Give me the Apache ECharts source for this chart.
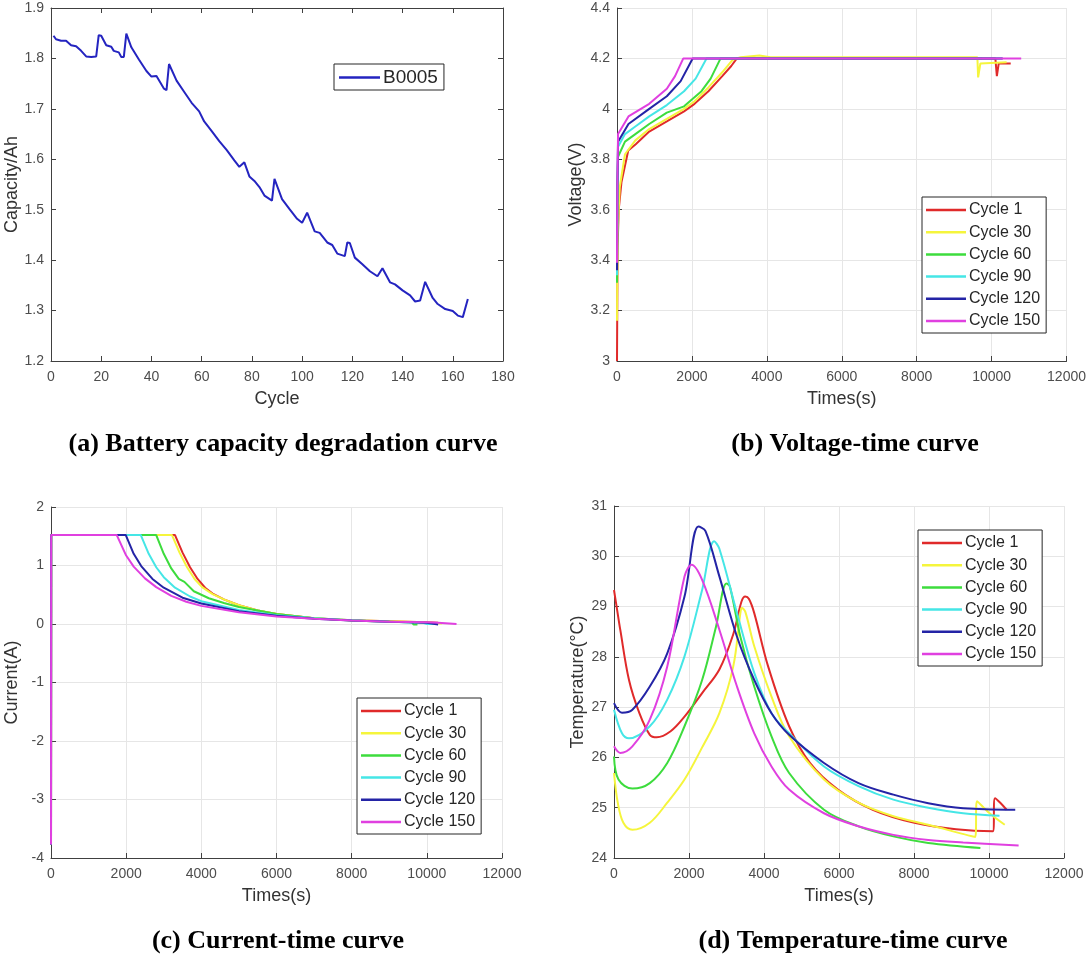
<!DOCTYPE html>
<html>
<head>
<meta charset="utf-8">
<script src="https://cdn.jsdelivr.net/npm/echarts@6/dist/echarts.min.js"></script>
<style>
html,body{margin:0;padding:0;background:#fff;}
#main{width:1089px;height:955px;}
</style>
</head>
<body>
<div id="main"></div>
<script>
// ---------- DATA ----------
const panelTitles = ['(a) Battery capacity degradation curve', '(b) Voltage-time curve', '(c) Current-time curve', '(d) Temperature-time curve'];
const cycleNames = ['Cycle 1', 'Cycle 30', 'Cycle 60', 'Cycle 90', 'Cycle 120', 'Cycle 150'];
const cycleColors = ['#e02a2a', '#f5f53c', '#3ddc3d', '#45e6e6', '#2424a6', '#e040e0'];

// (a) capacity of B0005
const capCycles = [1,2,4,6,8,10,12,14,16,18,19,20,22,24,25,27,28,29,30,32,35,38,40,42,45,46,47,50,53,56,59,61,64,67,70,73,75,77,79,81,83,85,88,89,92,95,98,100,102,105,107,110,112,114,117,118,119,121,124,127,130,132,135,137,140,143,145,147,149,152,154,157,160,162,164,166];
const capValues = [1.845,1.838,1.835,1.835,1.826,1.824,1.815,1.804,1.803,1.804,1.846,1.845,1.826,1.823,1.815,1.812,1.803,1.803,1.849,1.822,1.798,1.775,1.764,1.765,1.740,1.737,1.789,1.756,1.734,1.712,1.695,1.675,1.656,1.636,1.618,1.598,1.585,1.594,1.566,1.557,1.545,1.528,1.518,1.561,1.521,1.501,1.482,1.474,1.494,1.457,1.454,1.435,1.430,1.413,1.408,1.435,1.434,1.405,1.392,1.378,1.368,1.384,1.356,1.352,1.340,1.330,1.318,1.320,1.357,1.325,1.313,1.303,1.299,1.290,1.287,1.323];

// (b) voltage [time s, V]
const voltC1 = [[0,3.0],[15,3.45],[46,3.6],[120,3.71],[300,3.835],[500,3.86],[860,3.91],[1330,3.95],[1790,3.99],[2070,4.02],[2440,4.07],[2810,4.13],[3050,4.17],[3200,4.2],[10100,4.2],[10140,4.13],[10190,4.18],[10510,4.18]];
const voltC30 = [[0,3.16],[15,3.5],[74,3.69],[213,3.82],[490,3.875],[860,3.92],[1330,3.96],[1790,4.0],[2070,4.03],[2440,4.085],[2810,4.145],[3090,4.195],[3300,4.205],[3800,4.212],[4100,4.205],[9620,4.205],[9640,4.125],[9700,4.18],[10400,4.185]];
const voltC60 = [[0,3.31],[10,3.6],[28,3.81],[213,3.87],[490,3.9],[860,3.94],[1330,3.985],[1790,4.01],[2255,4.07],[2500,4.12],[2765,4.2],[9750,4.2]];
const voltC90 = [[0,3.34],[10,3.65],[28,3.85],[213,3.9],[490,3.93],[860,3.97],[1330,4.015],[1790,4.07],[2100,4.12],[2390,4.2],[10280,4.2]];
const voltC120 = [[0,3.36],[10,3.7],[28,3.87],[306,3.94],[860,4.0],[1330,4.05],[1700,4.11],[2020,4.2],[10300,4.2]];
const voltC150 = [[0,3.39],[10,3.7],[28,3.9],[306,3.97],[860,4.02],[1330,4.08],[1550,4.13],[1770,4.2],[10790,4.2]];

// (c) current [time s, A]
const currC1 = [[0,-3.77],[5,1.52],[3300,1.52],[3500,1.22],[3700,0.97],[3900,0.77],[4100,0.62],[4300,0.52],[4600,0.42],[5000,0.32],[5500,0.23],[6000,0.17],[7000,0.1],[8000,0.065],[9000,0.045],[10000,0.03],[10300,0.02]];
const currC30 = [[0,-3.77],[5,1.52],[3220,1.52],[3420,1.22],[3620,0.97],[3820,0.77],[4020,0.63],[4300,0.51],[4600,0.42],[5000,0.32],[5500,0.23],[6000,0.17],[7000,0.1],[8000,0.065],[9000,0.045],[9620,0.035],[10400,0.01]];
const currC60 = [[0,-3.77],[5,1.52],[2800,1.52],[3000,1.2],[3200,0.95],[3400,0.77],[3550,0.72],[3800,0.56],[4200,0.44],[4600,0.36],[5000,0.29],[6000,0.17],[7000,0.1],[8000,0.06],[9000,0.04],[9600,0.03],[9650,-0.01],[9750,-0.01]];
const currC90 = [[0,-3.77],[5,1.52],[2390,1.52],[2600,1.2],[2800,0.97],[3000,0.8],[3300,0.62],[3700,0.47],[4000,0.39],[5000,0.24],[6000,0.15],[7000,0.1],[8000,0.065],[9000,0.04],[9900,0.02],[10000,0.0],[10280,0.0]];
const currC120 = [[0,-3.77],[5,1.52],[1990,1.52],[2200,1.2],[2400,0.99],[2700,0.77],[3000,0.62],[3500,0.45],[4000,0.35],[5000,0.22],[6000,0.14],[7000,0.09],[8000,0.06],[9000,0.04],[10000,0.02],[10050,-0.01],[10300,-0.01]];
const currC150 = [[0,-3.77],[5,1.52],[1750,1.52],[2000,1.17],[2200,0.98],[2500,0.78],[2800,0.63],[3200,0.48],[3600,0.38],[4000,0.31],[5000,0.2],[6000,0.13],[7000,0.09],[8000,0.06],[9000,0.04],[10000,0.03],[10300,0.02],[10790,0.0]];

// (d) temperature [time s, degC]
const tempC1 = [[0,29.33],[80,28.95],[167,28.54],[400,27.54],[677,26.88],[955,26.45],[1140,26.4],[1510,26.52],[1880,26.81],[2350,27.28],[2810,27.75],[3180,28.45],[3400,29.1],[3500,29.2],[3600,29.15],[3740,28.87],[4110,27.81],[4670,26.62],[5225,25.89],[5970,25.36],[6900,24.96],[8010,24.7],[9120,24.57],[10100,24.53],[10160,25.19],[10300,25.1],[10470,24.96]];
const tempC30 = [[0,25.69],[100,25.1],[250,24.7],[490,24.56],[955,24.7],[1420,25.1],[1880,25.56],[2350,26.2],[2810,26.88],[3180,27.81],[3370,28.87],[3410,28.97],[3500,28.9],[3740,28.21],[4200,27.21],[4670,26.42],[5600,25.56],[6520,25.1],[7450,24.83],[8380,24.66],[9630,24.42],[9680,25.13],[10000,24.9],[10420,24.66]];
const tempC60 = [[0,26.02],[120,25.56],[490,25.38],[955,25.49],[1420,25.89],[1880,26.62],[2350,27.54],[2720,28.6],[3000,29.46],[3090,29.4],[3370,28.4],[3740,27.41],[4200,26.42],[4670,25.69],[5600,24.96],[6520,24.63],[7450,24.43],[8380,24.3],[9770,24.2]];
const tempC90 = [[0,26.95],[213,26.48],[400,26.38],[955,26.62],[1420,27.15],[1880,28.01],[2350,29.33],[2670,30.3],[2810,30.15],[3280,28.87],[3740,27.68],[4200,26.88],[4670,26.48],[5600,25.82],[6520,25.43],[7450,25.16],[8380,25.0],[9310,24.89],[10280,24.84]];
const tempC120 = [[0,27.08],[213,26.89],[490,26.95],[955,27.41],[1420,28.07],[1880,29.2],[2250,30.59],[2440,30.5],[2810,29.6],[3280,28.4],[3740,27.54],[4200,26.88],[4670,26.45],[5600,25.89],[6520,25.49],[7450,25.26],[8380,25.09],[9310,24.99],[10700,24.96]];
const tempC150 = [[0,26.22],[167,26.09],[490,26.22],[955,26.75],[1420,27.81],[1880,29.6],[2070,29.83],[2350,29.53],[2810,28.54],[3280,27.41],[3740,26.48],[4200,25.82],[4670,25.36],[5600,24.89],[6520,24.63],[7450,24.46],[8380,24.36],[9310,24.31],[10790,24.25]];

// ---------- CHART ----------
const FONT = '"Liberation Sans", Arial, sans-serif';
const axisLineStyle = {color: '#404040', width: 1};
const labelStyle = {color: '#4d4d4d', fontSize: 14, fontFamily: FONT};
const nameStyle = {color: '#333333', fontSize: 18, fontFamily: FONT};
const plainNum = v => String(v);

function xAx(grid, min, max, interval, name, opts) {
  return Object.assign({
    type: 'value', gridIndex: grid, min: min, max: max, interval: interval,
    name: name, nameLocation: 'middle', nameGap: 29, nameTextStyle: nameStyle,
    axisLine: {show: true, onZero: false, lineStyle: axisLineStyle},
    axisTick: {show: true, inside: true, length: 5, lineStyle: axisLineStyle},
    axisLabel: Object.assign({margin: 9, formatter: plainNum}, labelStyle),
    splitLine: {show: true, lineStyle: {color: '#e6e6e6', width: 1}}
  }, opts || {});
}
function yAx(grid, min, max, interval, name, gap, opts) {
  return Object.assign({
    type: 'value', gridIndex: grid, min: min, max: max, interval: interval,
    name: name, nameLocation: 'middle', nameGap: gap, nameRotate: 90, nameTextStyle: nameStyle,
    axisLine: {show: true, onZero: false, lineStyle: axisLineStyle},
    axisTick: {show: true, inside: true, length: 5, lineStyle: axisLineStyle},
    axisLabel: Object.assign({margin: 7}, labelStyle),
    splitLine: {show: true, lineStyle: {color: '#e6e6e6', width: 1}}
  }, opts || {});
}

const xAxes = [
  xAx(0, 0, 180, 20, 'Cycle', {splitLine: {show: false}}),
  xAx(0, 0, 180, 20, '', {position: 'top', axisLabel: {show: false}, splitLine: {show: false}}),
  xAx(1, 0, 12000, 2000, 'Times(s)'),
  xAx(2, 0, 12000, 2000, 'Times(s)'),
  xAx(3, 0, 12000, 2000, 'Times(s)')
];
const yAxes = [
  yAx(0, 1.2, 1.9, 0.1, 'Capacity/Ah', 30, {splitLine: {show: false}}),
  yAx(0, 1.2, 1.9, 0.1, '', 10, {position: 'right', axisLabel: {show: false}, splitLine: {show: false}}),
  yAx(1, 3, 4.4, 0.2, 'Voltage(V)', 32),
  yAx(2, -4, 2, 1, 'Current(A)', 30),
  yAx(3, 24, 31, 1, 'Temperature(\u00B0C)', 27)
];

const series = [];
series.push({
  name: 'B0005', type: 'line', xAxisIndex: 0, yAxisIndex: 0, symbol: 'none',
  lineStyle: {color: '#2424c0', width: 2}, itemStyle: {color: '#2424c0'},
  data: capCycles.map((c, i) => [c, capValues[i]])
});
const voltSets = [voltC1, voltC30, voltC60, voltC90, voltC120, voltC150];
const currSets = [currC1, currC30, currC60, currC90, currC120, currC150];
const tempSets = [tempC1, tempC30, tempC60, tempC90, tempC120, tempC150];
function addSets(sets, axisIdx, smooth) {
  sets.forEach((d, i) => {
    series.push({
      name: cycleNames[i], type: 'line', xAxisIndex: axisIdx, yAxisIndex: axisIdx,
      symbol: 'none', smooth: smooth,
      lineStyle: {color: cycleColors[i], width: 2}, itemStyle: {color: cycleColors[i]},
      data: d
    });
  });
}
addSets(voltSets, 2, false);
addSets(currSets, 3, false);
addSets(tempSets, 4, 0.35);

function legend(left, top, data, fontSize, gap, padding, width) {
  return {
    orient: 'vertical', left: left, top: top, data: data,
    icon: 'rect', itemWidth: width, itemHeight: 2.5, itemGap: gap,
    padding: padding,
    backgroundColor: '#ffffff', borderColor: '#262626', borderWidth: 1, borderRadius: 0,
    textStyle: {color: '#262626', fontSize: fontSize, fontFamily: FONT, padding: [0, 0, 0, -2]},
    selectedMode: false
  };
}

const titlePos = [[283, 444], [855, 444], [278, 941], [853, 941]];
const graphics = panelTitles.map((t, i) => ({
  type: 'text', x: titlePos[i][0], y: titlePos[i][1], silent: true,
  style: {text: t, align: 'center', verticalAlign: 'middle', fill: '#000',
          fontSize: 26, fontWeight: 'bold', fontFamily: '"Liberation Serif", "Times New Roman", serif'}
}));

const option = {
  animation: false,
  backgroundColor: '#ffffff',
  grid: [
    {left: 51, top: 8, width: 452, height: 353},
    {left: 617, top: 8, width: 451, height: 353},
    {left: 51, top: 507, width: 451, height: 351},
    {left: 614, top: 506, width: 450, height: 352}
  ],
  xAxis: xAxes,
  yAxis: yAxes,
  legend: [
    legend(334, 64, ['B0005'], 19, 0, [4, 6, 3, 5], 41),
    legend(922, 197, cycleNames, 16, 6.2, [5, 6, 4, 4], 40),
    legend(357, 698, cycleNames, 16, 6.2, [5, 6, 4, 4], 40),
    legend(918, 530, cycleNames, 16, 6.2, [5, 6, 4, 4], 40)
  ],
  graphic: graphics,
  series: series
};

const chart = echarts.init(document.getElementById('main'), null, {renderer: 'canvas'});
chart.setOption(option);
</script>
</body>
</html>
